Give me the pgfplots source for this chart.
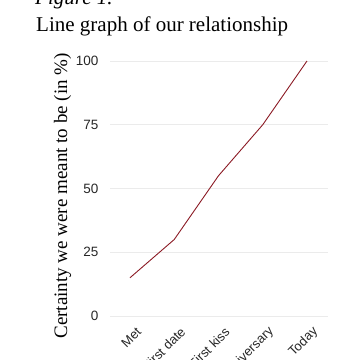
\documentclass[border=0pt]{standalone}
\usepackage{fontspec}
\setmainfont{Liberation Serif}
\newfontfamily\sansf{Liberation Sans}
\usepackage{pgfplots}
\pgfplotsset{compat=1.18}
\definecolor{lineRed}{RGB}{139,26,36}
\definecolor{gridGray}{RGB}{235,235,235}
\begin{document}
\begin{tikzpicture}[x=1pt,y=1pt]
\path[use as bounding box, clip] (0,0) rectangle (360,360);
\node[anchor=base west, inner sep=0pt, font=\fontsize{21}{25}\selectfont\itshape] at (35,355.5) {Figure 1.};
\node[anchor=base west, inner sep=0pt, font=\fontsize{21}{25}\selectfont] at (36,329) {Line graph of our relationship};
\begin{axis}[
  at={(110pt,44pt)}, anchor=south west,
  scale only axis, width=218pt, height=255pt,
  xmin=-0.452, xmax=4.475, ymin=0, ymax=100,
  axis line style={draw=none},
  major tick length=0pt,
  ymajorgrids, grid style={gridGray, line width=0.6pt},
  ytick={0,25,50,75,100},
  xtick={0,1,2,3,4},
  xticklabels={Met,First date,First kiss,Anniversary,Today},
  /pgf/number format/assume math mode=true,
  tick label style={font=\sansf\fontsize{13.5}{13.5}\selectfont, text=black!85},
  xticklabel style={font=\sansf\fontsize{13}{13}\selectfont, rotate=45, anchor=east, xshift=0pt, yshift=-16pt},
  yticklabel style={xshift=-8pt},
  ylabel={Certainty we were meant to be (in \%)},
  every axis y label/.style={at={(axis description cs:-0.197,0.471)}, rotate=90, anchor=base, font=\fontsize{19}{22}\selectfont},
  clip=false,
]
\addplot[lineRed, line width=0.9pt] coordinates {(0,15) (1,30) (2,55) (3,75) (4,100)};
\end{axis}
\end{tikzpicture}
\end{document}
